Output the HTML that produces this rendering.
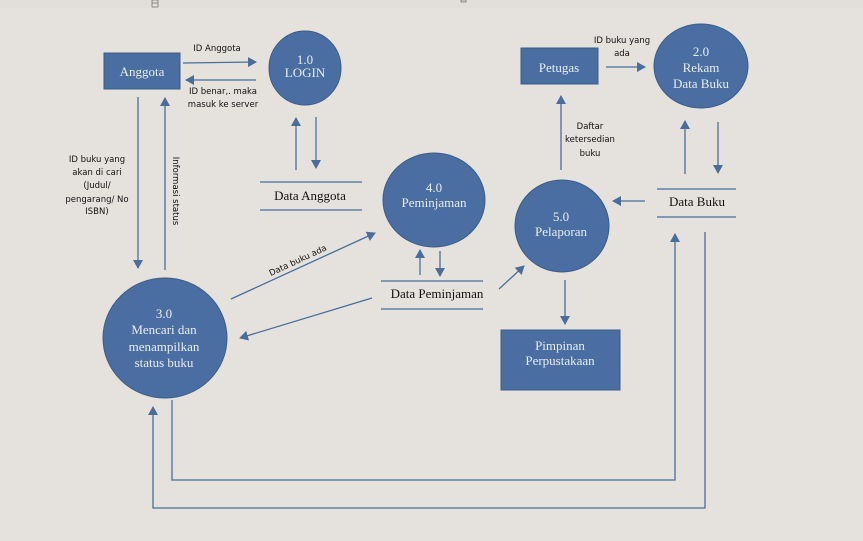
<!DOCTYPE html>
<html><head><meta charset="utf-8"><style>
html,body{margin:0;padding:0;background:#e5e2de;}
svg{display:block}
.s{font-family:"Liberation Serif",serif;}
.c{font-family:"DejaVu Sans","Liberation Sans",sans-serif;font-size:8.5px;fill:#111;}
</style></head><body>
<svg width="863" height="541" viewBox="0 0 863 541" xmlns="http://www.w3.org/2000/svg">
<defs>
<marker id="a" markerWidth="10" markerHeight="10" refX="8" refY="5" orient="auto" markerUnits="userSpaceOnUse">
<path d="M0,0 L9,5 L0,10 z" fill="#4a6d9a"/></marker>
</defs>
<rect x="0" y="0" width="863" height="8" fill="#e2dfdb"/>
<rect x="152" y="0" width="6" height="7" fill="none" stroke="#777" stroke-width="0.8"/>
<line x1="152" y1="3" x2="158" y2="3" stroke="#777" stroke-width="0.8"/>
<rect x="461" y="0" width="5" height="2" fill="none" stroke="#777" stroke-width="0.8"/>
<g stroke="#4a6d9a" stroke-width="1.3" fill="none">
<line x1="183" y1="63" x2="256" y2="62" marker-end="url(#a)"/>
<line x1="256" y1="80" x2="186" y2="80" marker-end="url(#a)"/>
<line x1="138" y1="97" x2="138" y2="268" marker-end="url(#a)"/>
<line x1="165" y1="270" x2="165" y2="98" marker-end="url(#a)"/>
<line x1="296" y1="170" x2="296" y2="118" marker-end="url(#a)"/>
<line x1="316" y1="117" x2="316" y2="168" marker-end="url(#a)"/>
<line x1="231" y1="299" x2="375" y2="233" marker-end="url(#a)"/>
<line x1="372" y1="298" x2="240" y2="338" marker-end="url(#a)"/>
<line x1="420" y1="275" x2="420" y2="250" marker-end="url(#a)"/>
<line x1="440" y1="251" x2="440" y2="276" marker-end="url(#a)"/>
<line x1="499" y1="289" x2="524" y2="266" marker-end="url(#a)"/>
<line x1="565" y1="280" x2="565" y2="324" marker-end="url(#a)"/>
<line x1="561" y1="170" x2="561" y2="96" marker-end="url(#a)"/>
<line x1="606" y1="67" x2="645" y2="67" marker-end="url(#a)"/>
<line x1="645" y1="201" x2="613" y2="201" marker-end="url(#a)"/>
<line x1="685" y1="174" x2="685" y2="121" marker-end="url(#a)"/>
<line x1="718" y1="122" x2="718" y2="173" marker-end="url(#a)"/>
<polyline points="705,232 705,508 153,508 153,407" marker-end="url(#a)"/>
<polyline points="172,400 172,480 675,480 675,234" marker-end="url(#a)"/>
<line x1="260" y1="182" x2="362" y2="182"/><line x1="260" y1="210" x2="362" y2="210"/>
<line x1="381" y1="281" x2="483" y2="281"/><line x1="381" y1="309" x2="483" y2="309"/>
<line x1="657" y1="189" x2="736" y2="189"/><line x1="657" y1="217" x2="736" y2="217"/>
</g>
<g fill="#4a6ea1" stroke="#3b5c88" stroke-width="1">
<rect x="104" y="53" width="76" height="36"/>
<rect x="521" y="48" width="77" height="36"/>
<rect x="501" y="330" width="119" height="60"/>
<ellipse cx="305" cy="68" rx="36" ry="37"/>
<ellipse cx="701" cy="66" rx="47" ry="42"/>
<ellipse cx="434" cy="200" rx="51" ry="47"/>
<ellipse cx="562" cy="226" rx="47" ry="46"/>
<ellipse cx="165" cy="338" rx="62" ry="60"/>
</g>
<g class="s" fill="#e8ecf3" font-size="13" text-anchor="middle">
<text x="142" y="76">Anggota</text>
<text x="559" y="72">Petugas</text>
<text x="305" y="64">1.0</text><text x="305" y="77">LOGIN</text>
<text x="701" y="56">2.0</text><text x="701" y="72">Rekam</text><text x="701" y="88">Data Buku</text>
<text x="434" y="192">4.0</text><text x="434" y="207">Peminjaman</text>
<text x="561" y="221">5.0</text><text x="561" y="236">Pelaporan</text>
<text x="164" y="318">3.0</text><text x="164" y="334">Mencari dan</text><text x="164" y="351">menampilkan</text><text x="164" y="367">status buku</text>
<text x="560" y="350">Pimpinan</text><text x="560" y="365">Perpustakaan</text>
</g>
<g class="s" fill="#111" font-size="13" text-anchor="middle">
<text x="310" y="200">Data Anggota</text>
<text x="437" y="298">Data Peminjaman</text>
<text x="697" y="206">Data Buku</text>
</g>
<g class="c" text-anchor="middle">
<text x="217" y="51">ID Anggota</text>
<text x="223" y="94">ID benar,. maka</text><text x="223" y="107">masuk ke server</text>
<text x="97" y="162">ID buku yang</text><text x="97" y="175">akan di cari</text><text x="97" y="188">(Judul/</text><text x="97" y="202">pengarang/ No</text><text x="97" y="214">ISBN)</text>
<text transform="translate(173,191) rotate(90)">Informasi status</text>
<text transform="translate(299,263) rotate(-25)">Data buku ada</text>
<text x="622" y="43">ID buku yang</text><text x="622" y="56">ada</text>
<text x="590" y="129">Daftar</text><text x="590" y="142">ketersedian</text><text x="590" y="156">buku</text>
</g>
</svg>
</body></html>
